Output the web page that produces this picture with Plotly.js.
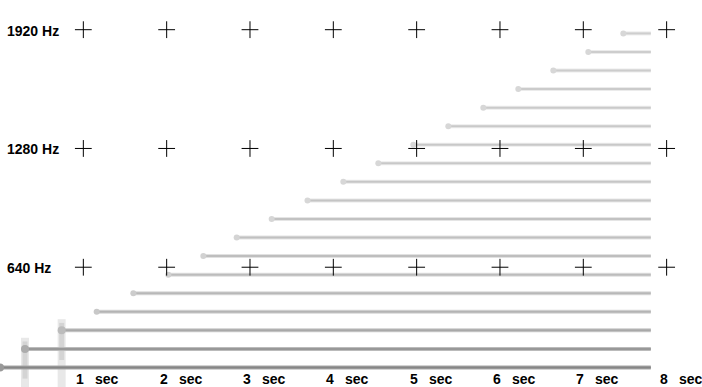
<!DOCTYPE html>
<html>
<head>
<meta charset="utf-8">
<script src="https://cdn.plot.ly/plotly-3.0.1.min.js"></script>
<style>html,body{margin:0;padding:0;background:#fff;}#chart{width:702px;height:387px;}</style>
</head>
<body>
<div id="chart"></div>
<script>
// Harmonic frequencies (Hz) and the time (s) at which each one begins
const harmonicFreqs = [100,200,300,400,500,600,700,800,900,1000,1100,1200,1300,1400,1500,1600,1700,1800,1900];
const harmonicOnsets = [0,0.30,0.74,1.16,1.60,2.02,2.44,2.84,3.26,3.69,4.12,4.54,4.96,5.38,5.80,6.22,6.64,7.06,7.48];
const endTime = 7.81;
// grey level of each harmonic trace (darker = stronger)
const harmonicGrey = [0x85,0x98,0xa8,0xb4,0xb8,0xbc,0xbe,0xc0,0xc2,0xc4,0xc6,0xc8,0xc8,0xc9,0xca,0xcb,0xcc,0xcd,0xce];
// onset transients (broadband smears)
const transientIdx = [1,2];
// grid marker positions
const gridTimes = [1,2,3,4,5,6,7,8];
const gridFreqs = [640,1280,1920];
const freqLabels = ['640 Hz','1280 Hz','1920 Hz'];
const timeLabels = ['1','2','3','4','5','6','7','8'];

const traces = [];
function grey(v,a){return 'rgba('+v+','+v+','+v+','+a+')';}

// transients
transientIdx.forEach(i=>{
  traces.push({x:[harmonicOnsets[i],harmonicOnsets[i]], y:[-30,harmonicFreqs[i]+60], mode:'lines',
    line:{color:'rgba(232,232,232,1)', width:8}, hoverinfo:'skip', showlegend:false});
  traces.push({x:[harmonicOnsets[i],harmonicOnsets[i]], y:[harmonicFreqs[i]-160,harmonicFreqs[i]+40], mode:'lines',
    line:{color:'rgba(212,212,212,1)', width:5}, hoverinfo:'skip', showlegend:false});
});

harmonicFreqs.forEach((f,i)=>{
  const g = harmonicGrey[i];
  // halo
  traces.push({x:[harmonicOnsets[i], endTime], y:[f,f], mode:'lines',
    line:{color:grey(Math.min(g+35,235),1), width:4}, hoverinfo:'skip', showlegend:false});
  // core
  traces.push({x:[harmonicOnsets[i], endTime], y:[f,f], mode:'lines',
    line:{color:grey(g,1), width:2}, hoverinfo:'skip', showlegend:false});
  // onset blob
  traces.push({x:[harmonicOnsets[i]], y:[f], mode:'markers',
    marker:{color:grey(Math.min(g+20,215),1), size: i<3?8:6, line:{width:0}}, hoverinfo:'skip', showlegend:false});
});

// grid crosses
const cx=[], cy=[];
gridFreqs.forEach(f=>gridTimes.forEach(t=>{cx.push(t); cy.push(f);}));
traces.push({x:cx, y:cy, mode:'markers', marker:{symbol:'cross-thin', size:12, line:{color:'#000', width:1}}, hoverinfo:'skip', showlegend:false});

const font = {family:'Liberation Sans, Arial, sans-serif', size:14, color:'#000'};
const annotations = [];
gridFreqs.forEach((f,i)=>{
  annotations.push({xref:'paper', yref:'y', x:6/702, y:f, xanchor:'left', yanchor:'middle', text:'<b>'+freqLabels[i]+'</b>', showarrow:false, font:font, borderpad:0, yshift:-1});
});
gridTimes.forEach((t,i)=>{
  annotations.push({xref:'x', yref:'paper', x:t, y:(387-378.5)/387, xanchor:'left', yanchor:'middle', text:'<b>'+timeLabels[i]+'</b>', showarrow:false, font:font, borderpad:0, xshift:-8});
  annotations.push({xref:'x', yref:'paper', x:t, y:(387-378.5)/387, xanchor:'left', yanchor:'middle', text:'<b>sec</b>', showarrow:false, font:font, borderpad:0, xshift:11});
});

const layout = {
  width:702, height:387, margin:{l:0,r:0,t:0,b:0},
  paper_bgcolor:'#fff', plot_bgcolor:'#fff',
  xaxis:{range:[0, 702/83.33], visible:false, fixedrange:true},
  yaxis:{range:[-5.4, 2080], visible:false, fixedrange:true},
  annotations:annotations, showlegend:false
};
Plotly.newPlot('chart', traces, layout, {staticPlot:true, displayModeBar:false});
</script>
</body>
</html>
